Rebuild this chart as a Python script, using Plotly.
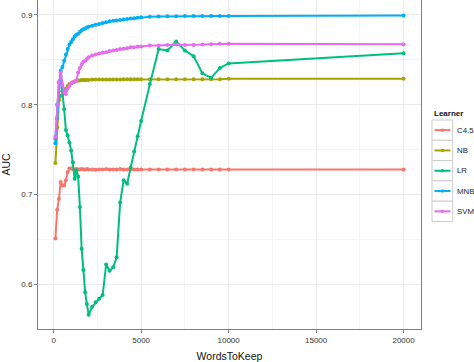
import plotly.graph_objects as go

words = [100, 200, 300, 400, 500, 600, 700, 800, 900, 1000,
         1100, 1200, 1300, 1400, 1500, 1600, 1700, 1800, 1900, 2000,
         2200, 2400, 2600, 2800, 3000, 3200, 3400, 3600, 3800, 4000,
         4200, 4400, 4600, 4800, 5000,
         5500, 6000, 6500, 7000, 7500, 8000, 8500, 9000, 9500, 10000,
         20000]

auc_c45 = [0.651, 0.683, 0.695, 0.714, 0.710, 0.710, 0.716, 0.725, 0.729, 0.729,
           0.7285, 0.728, 0.7285, 0.728, 0.728, 0.7285, 0.728, 0.728, 0.7285, 0.728,
           0.728, 0.7275, 0.728, 0.728, 0.7285, 0.728, 0.728, 0.728, 0.7285, 0.728,
           0.728, 0.728, 0.728, 0.728, 0.728,
           0.728, 0.728, 0.728, 0.728, 0.728, 0.728, 0.728, 0.728, 0.728, 0.728,
           0.728]

auc_nb = [0.735, 0.775, 0.805, 0.810, 0.811, 0.815, 0.818, 0.821, 0.823, 0.824,
          0.825, 0.826, 0.8265, 0.827, 0.827, 0.8275, 0.8275, 0.8275, 0.8275, 0.8275,
          0.828, 0.828, 0.828, 0.828, 0.828, 0.828, 0.828, 0.828, 0.828, 0.8285,
          0.8285, 0.8285, 0.8285, 0.8285, 0.8285,
          0.8285, 0.8285, 0.8285, 0.8285, 0.8285, 0.8285, 0.8285, 0.8285, 0.8285, 0.829,
          0.829]

auc_lr = [0.762, 0.800, 0.825, 0.832, 0.815, 0.795, 0.772, 0.766, 0.758, 0.749,
          0.736, 0.7175, 0.727, 0.720, 0.686, 0.6395, 0.616, 0.591, 0.578, 0.566,
          0.575, 0.580, 0.584, 0.588, 0.622, 0.615, 0.619, 0.630, 0.691, 0.716,
          0.712, 0.730, 0.748, 0.765, 0.782,
          0.823, 0.862, 0.8605, 0.8705, 0.8605, 0.854, 0.835, 0.830, 0.841, 0.846,
          0.8575]

auc_mnb = [0.757, 0.785, 0.810, 0.838, 0.842, 0.849, 0.856, 0.862, 0.867, 0.870,
           0.873, 0.876, 0.878, 0.879, 0.881, 0.883, 0.884, 0.885, 0.886, 0.887,
           0.888, 0.889, 0.890, 0.891, 0.892, 0.893, 0.8935, 0.894, 0.8945, 0.895,
           0.8955, 0.896, 0.8965, 0.897, 0.8975,
           0.898, 0.8983, 0.8985, 0.8987, 0.899, 0.899, 0.899, 0.899, 0.899, 0.899,
           0.8995]

auc_svm = [0.764, 0.800, 0.825, 0.836, 0.822, 0.814, 0.812, 0.818, 0.821, 0.824,
           0.825, 0.826, 0.827, 0.836, 0.841, 0.845, 0.848, 0.849, 0.851, 0.853,
           0.855, 0.856, 0.857, 0.858, 0.8585, 0.860, 0.8605, 0.861, 0.862, 0.8625,
           0.863, 0.864, 0.864, 0.8645, 0.865,
           0.866, 0.866, 0.8665, 0.867, 0.8665, 0.8665, 0.867, 0.8675, 0.868, 0.868,
           0.8675]

learners = ["C4.5", "NB", "LR", "MNB", "SVM"]
series = [auc_c45, auc_nb, auc_lr, auc_mnb, auc_svm]
colors = ["#F8766D", "#A3A500", "#00BF7D", "#00B0F6", "#E76BF3"]

x_ticks = [0, 5000, 10000, 15000, 20000]
y_ticks = [0.6, 0.7, 0.8, 0.9]

W, H = 474, 362
ML, MR, MT, MB = 38, 53, 0, 33
PW, PH = W - ML - MR, H - MT - MB


def px_x(px):
    return (px - ML) / PW


def px_y(py):
    return (H - MB - py) / PH


fig = go.Figure()
for name, vals, col in zip(learners, series, colors):
    fig.add_trace(go.Scatter(
        x=words, y=vals, name=name, mode="lines+markers",
        line=dict(color=col, width=2),
        marker=dict(color=col, size=4),
        showlegend=False,
    ))

# ggplot-style legend drawn in paper coordinates
shapes = []
annotations = [dict(
    text="<b>Learner</b>", xref="paper", yref="paper",
    x=px_x(432), y=px_y(113), xanchor="left", yanchor="middle",
    showarrow=False, font=dict(size=8, color="#111111"),
)]
row_h = 20.3
top0 = 120
for i, (name, col) in enumerate(zip(learners, colors)):
    y0 = top0 + i * row_h
    yc = y0 + row_h / 2
    shapes.append(dict(type="rect", xref="paper", yref="paper",
                       x0=px_x(432), x1=px_x(452.7), y0=px_y(y0 + row_h), y1=px_y(y0),
                       line=dict(color="#CCCCCC", width=1), fillcolor="white", layer="above"))
    shapes.append(dict(type="line", xref="paper", yref="paper",
                       x0=px_x(434.5), x1=px_x(450.5), y0=px_y(yc), y1=px_y(yc),
                       line=dict(color=col, width=2), layer="above"))
    shapes.append(dict(type="circle", xref="paper", yref="paper",
                       x0=px_x(440.8), x1=px_x(444.2), y0=px_y(yc + 1.7), y1=px_y(yc - 1.7),
                       line=dict(color=col, width=0), fillcolor=col, layer="above"))
    annotations.append(dict(
        text=name, xref="paper", yref="paper",
        x=px_x(454.5), y=px_y(yc), xanchor="left", yanchor="middle",
        showarrow=False, font=dict(size=7.8, color="#222222"),
    ))

font_family = "Liberation Sans, Arial, sans-serif"
fig.update_layout(
    width=W, height=H,
    margin=dict(l=ML, r=MR, t=MT, b=MB, autoexpand=False),
    paper_bgcolor="white", plot_bgcolor="white",
    font=dict(family=font_family, size=8, color="#333333"),
    showlegend=False,
    shapes=shapes,
    annotations=annotations,
)
fig.update_xaxes(
    range=[-895, 20995], tickvals=x_ticks, tickformat="d",
    ticks="outside", ticklen=3, tickcolor="#7F7F7F",
    showline=True, linecolor="#7F7F7F", linewidth=1, mirror=False,
    showgrid=True, gridcolor="#EBEBEB", gridwidth=1,
    minor=dict(tickvals=[2500, 7500, 12500, 17500], showgrid=True, gridcolor="#F5F5F5"),
    zeroline=False,
    title=dict(text="WordsToKeep", font=dict(size=10.5, color="#111111"), standoff=9),
    tickfont=dict(size=8, color="#333333"),
)
fig.update_yaxes(
    range=[0.5502, 0.9167], tickvals=y_ticks, tickformat=".1f",
    ticks="outside", ticklen=3, tickcolor="#7F7F7F",
    showline=True, linecolor="#7F7F7F", linewidth=1, mirror=True,
    showgrid=True, gridcolor="#EBEBEB", gridwidth=1,
    minor=dict(tickvals=[0.65, 0.75, 0.85], showgrid=True, gridcolor="#F5F5F5"),
    zeroline=False,
    title=dict(text="AUC", font=dict(size=10.5, color="#111111"), standoff=8),
    tickfont=dict(size=8, color="#333333"),
)

fig.write_html("out.html", config={"displayModeBar": False},
               post_script="document.body.style.margin='0px';")
